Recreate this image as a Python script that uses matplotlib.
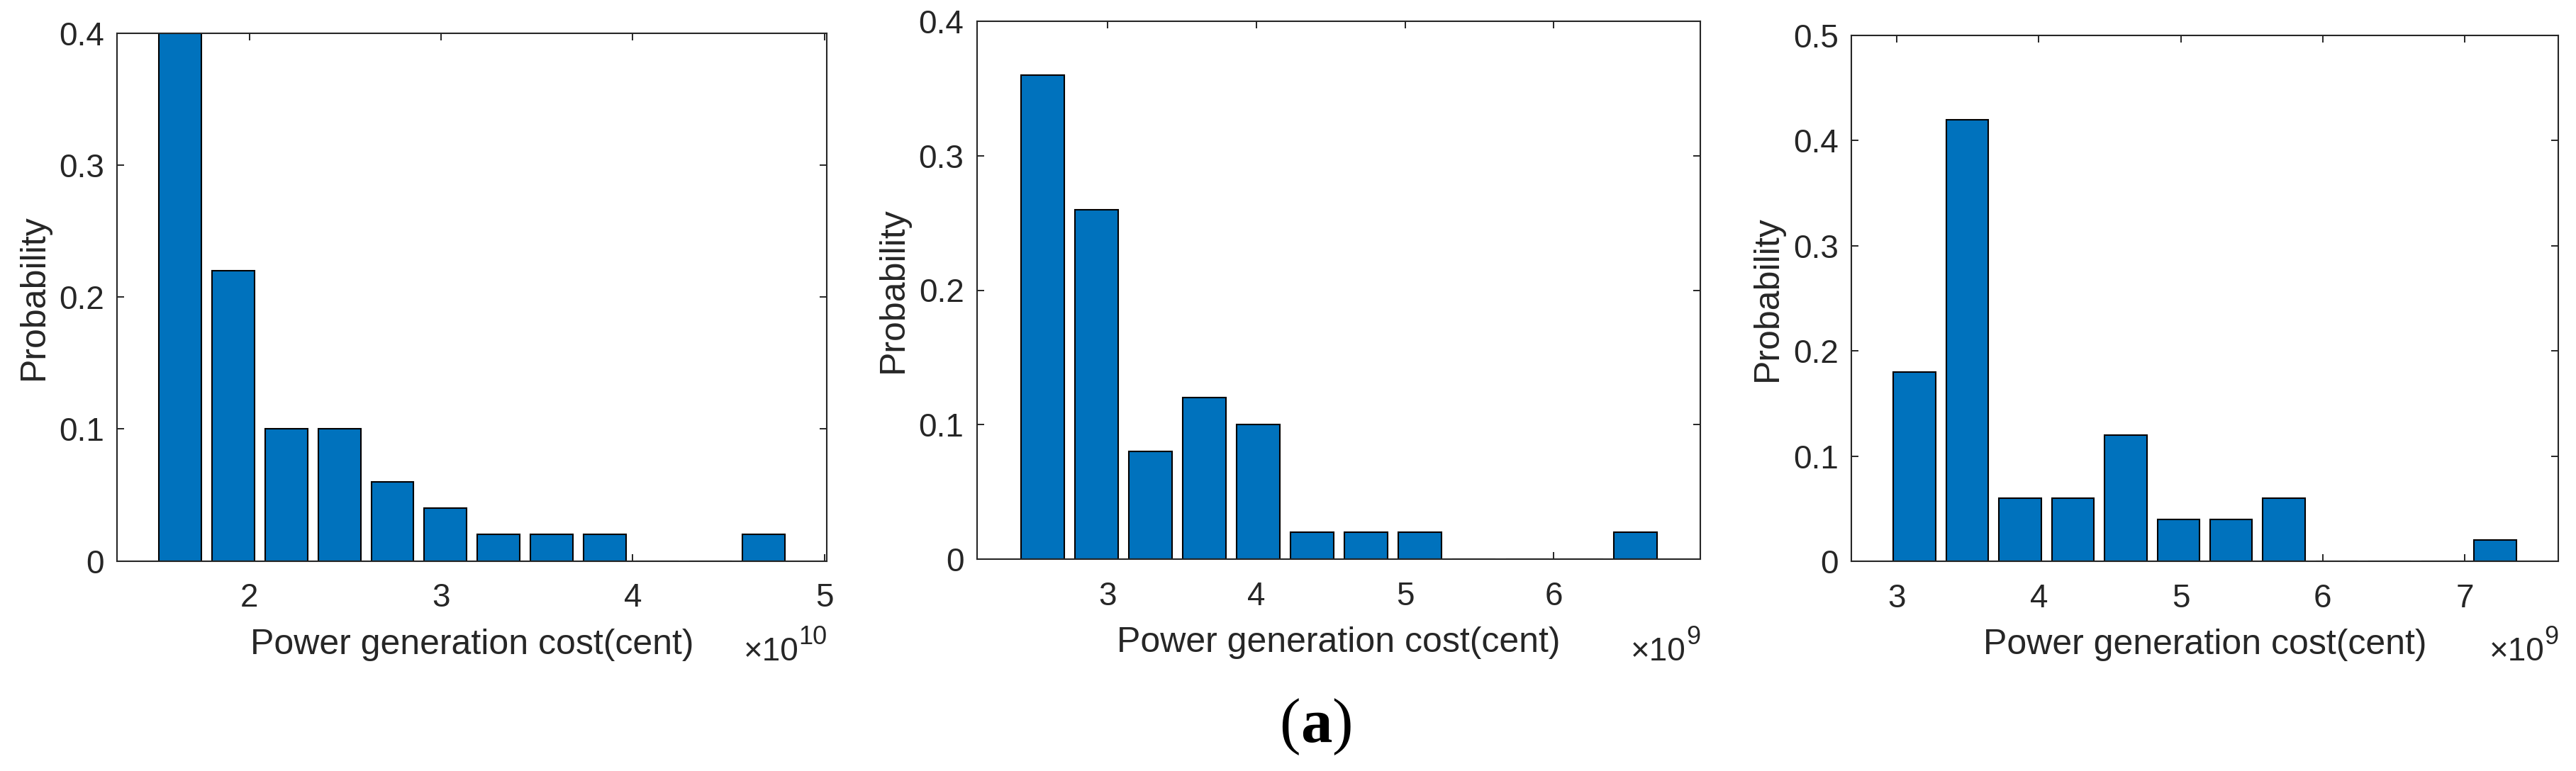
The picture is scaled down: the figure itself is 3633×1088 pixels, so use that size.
import matplotlib
matplotlib.use('Agg')
import matplotlib.pyplot as plt
from matplotlib.ticker import FormatStrFormatter

# figure size in pixels
W, H = 3633, 1088

# bin centres (in units of 10^exp cents) and probabilities
cost1 = [1.639, 1.916, 2.192, 2.469, 2.746, 3.023, 3.299, 3.576, 3.853, 4.129, 4.406, 4.683]
prob1 = [0.40, 0.22, 0.10, 0.10, 0.06, 0.04, 0.02, 0.02, 0.02, 0.0, 0.0, 0.02]
exp1 = 10

cost2 = [2.563, 2.925, 3.288, 3.650, 4.013, 4.375, 4.738, 5.100, 5.463, 5.825, 6.188, 6.550]
prob2 = [0.36, 0.26, 0.08, 0.12, 0.10, 0.02, 0.02, 0.02, 0.0, 0.0, 0.0, 0.02]
exp2 = 9

cost3 = [3.124, 3.496, 3.868, 4.240, 4.612, 4.984, 5.355, 5.727, 6.099, 6.471, 6.843, 7.215]
prob3 = [0.18, 0.42, 0.06, 0.06, 0.12, 0.04, 0.04, 0.06, 0.0, 0.0, 0.0, 0.02]
exp3 = 9

xticks1 = [2, 3, 4, 5]
xticks2 = [3, 4, 5, 6]
xticks3 = [3, 4, 5, 6, 7]
yticks1 = [0, 0.1, 0.2, 0.3, 0.4]
yticks2 = [0, 0.1, 0.2, 0.3, 0.4]
yticks3 = [0, 0.1, 0.2, 0.3, 0.4, 0.5]

xlabel = 'Power generation cost(cent)'
ylabel = 'Probability'
caption = 'a'

BAR = '#0072BD'
INK = '#262626'

plt.rcParams['font.family'] = ['Liberation Sans', 'DejaVu Sans']

fig = plt.figure(figsize=(W / 100, H / 100), dpi=100)
renderer = fig.canvas.get_renderer()


def rect(l, r, t, b):
    return [l / W, 1 - b / H, (r - l) / W, (b - t) / H]


# (left, right, top, bottom) of each axes box in pixels
boxes = [(165, 1166.3, 46.7, 791.7), (1377.6, 2398, 30, 789), (2610.7, 3608.3, 50, 792)]

panels = [
    (boxes[0], cost1, prob1, exp1, (1.309, 5.013), xticks1, (0, 0.4), yticks1),
    (boxes[1], cost2, prob2, exp2, (2.121, 6.985), xticks2, (0, 0.4), yticks2),
    (boxes[2], cost3, prob3, exp3, (2.678, 7.661), xticks3, (0, 0.5), yticks3),
]

for box, x, y, ex, xl, xt, yl, yt in panels:
    ax = fig.add_axes(rect(*box))
    w = 0.8 * (x[1] - x[0])
    ax.bar(x, y, width=w, color=BAR, edgecolor='black', linewidth=1.5, zorder=2)
    ax.set_xlim(*xl)
    ax.set_ylim(*yl)
    ax.set_xticks(xt)
    ax.set_yticks(yt)
    ax.yaxis.set_major_formatter(FormatStrFormatter('%g'))
    ax.tick_params(direction='in', top=True, right=True, length=7.5, width=1.4,
                   color=INK, labelcolor=INK, labelsize=33)
    ax.tick_params(axis='x', pad=22)
    ax.tick_params(axis='y', pad=13)
    for s in ax.spines.values():
        s.set_linewidth(1.5)
        s.set_color(INK)
        s.set_zorder(3)
    ax.set_xlabel(xlabel, fontsize=36, color=INK, labelpad=15)
    ax.set_ylabel(ylabel, fontsize=36, color=INK, labelpad=9)

    # MATLAB style exponent label "x10^n" under the right end of the axis
    right = box[1]
    sup = fig.text(right / W, 1 - 909 / H, str(ex), fontsize=26, color=INK,
                   ha='right', va='baseline')
    sw = sup.get_window_extent(renderer).width
    fig.text((right - sw) / W, 1 - 932 / H, '\u00d710', fontsize=33, color=INK,
             ha='right', va='baseline')

# sub-figure caption "(a)": bold letter, plain parentheses
a_txt = fig.text(1856 / W, 1 - 1047 / H, caption, fontsize=64, fontweight='bold',
                 family='Liberation Serif', ha='center', va='baseline', color='black')
plt.annotate('(', xy=(0, 0), xycoords=a_txt, ha='right', va='bottom',
             fontsize=64, family='Liberation Serif', color='black')
plt.annotate(')', xy=(1, 0), xycoords=a_txt, ha='left', va='bottom',
             fontsize=64, family='Liberation Serif', color='black')

fig.savefig('out.png', dpi=100)
